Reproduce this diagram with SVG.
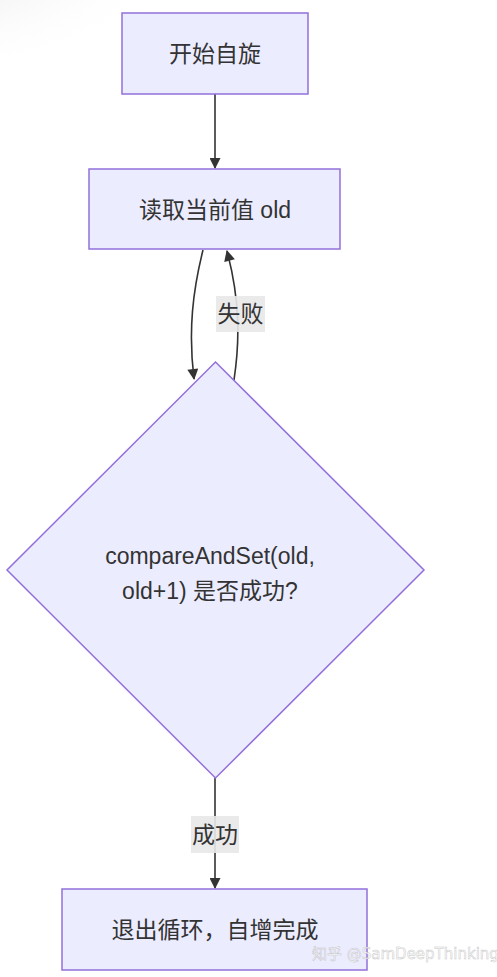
<svg xmlns="http://www.w3.org/2000/svg" width="497" height="977" viewBox="0 0 497 977">
<defs>
<style>
.node{fill:#ECECFF;stroke:#9370DB;stroke-width:1.5}
.t{font-family:"Liberation Sans","Noto Sans CJK SC",sans-serif;font-size:23px;fill:#333;text-anchor:middle;dominant-baseline:central}
.e{fill:none;stroke:#333;stroke-width:1.6}
.lbl{fill:#e8e8e8;opacity:0.9}
.wm{font-family:"DejaVu Sans","Noto Sans CJK SC",sans-serif;font-size:15px;fill:#fff;stroke:#bbb;stroke-width:0.5;opacity:0.8}
</style>
<marker id="ah" viewBox="0 0 10 10" refX="9" refY="5" markerWidth="12" markerHeight="11" markerUnits="userSpaceOnUse" orient="auto-start-reverse">
<path d="M0,0L10,5L0,10z" fill="#333"/>
</marker>
<radialGradient id="sh" cx="0" cy="0" r="1">
<stop offset="0" stop-color="#d8d8d8"/>
<stop offset="1" stop-color="#fff" stop-opacity="0"/>
</radialGradient>
</defs>
<rect width="497" height="977" fill="#fff"/>
<ellipse cx="40" cy="20" rx="140" ry="60" fill="url(#sh)" opacity="0.8"/>
<g id="edges">
<path class="e" d="M215,94L215,168" marker-end="url(#ah)"/>
<path class="e" d="M203,250C193,290 188,330 194,379" marker-end="url(#ah)"/>
<path class="e" d="M234,380C240,340 240,300 227,251" marker-end="url(#ah)"/>
<path class="e" d="M215,778L215,888" marker-end="url(#ah)"/>
</g>
<g id="label-fail">
<rect class="lbl" x="216" y="296" width="49" height="36"/>
<text class="t" x="240.5" y="314">失败</text>
</g>
<g id="label-ok">
<rect class="lbl" x="191" y="816" width="48" height="37"/>
<text class="t" x="215" y="834.5">成功</text>
</g>
<g id="start">
<rect class="node" x="122" y="13" width="186" height="81"/>
<text class="t" x="215" y="54">开始自旋</text>
</g>
<g id="read">
<rect class="node" x="89" y="169" width="251" height="80"/>
<text class="t" x="215" y="210">读取当前值 old</text>
</g>
<g id="cas">
<polygon class="node" points="215.5,362 424,570 215.5,778 7,570"/>
<text class="t" x="210" y="556">compareAndSet(old,</text>
<text class="t" x="210" y="591">old+1) 是否成功?</text>
</g>
<g id="done">
<rect class="node" x="62" y="889" width="305" height="81"/>
<text class="t" x="215" y="930">退出循环，自增完成</text>
</g>
<text class="wm" x="312" y="959">知乎 @SamDeepThinking</text>
</svg>
